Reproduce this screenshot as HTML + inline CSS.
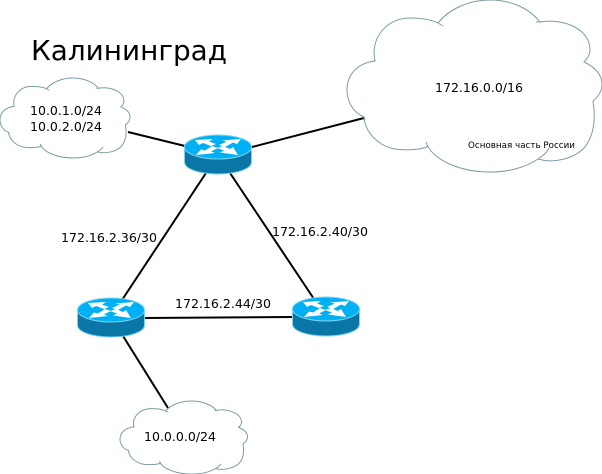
<!DOCTYPE html>
<html>
<head>
<meta charset="utf-8">
<style>
html,body{margin:0;padding:0;background:#fff;width:602px;height:474px;overflow:hidden}
svg{display:block}
text{font-family:"DejaVu Sans",sans-serif;fill:#000}
.c{fill:#fff;stroke:#7b9ea3;stroke-width:1;vector-effect:non-scaling-stroke}
.t{fill:none;stroke:#7b9ea3;stroke-width:1;vector-effect:non-scaling-stroke}
.l{stroke:#000;stroke-width:2;fill:none}
</style>
</head>
<body>
<svg width="602" height="474" viewBox="0 0 602 474" xmlns="http://www.w3.org/2000/svg">
<defs>
<g id="cloud">
<path class="c" d="M438 23C450 8 470 0 490 0C512 0 530 9 540 22C562 18 590 28 590 50C590 55 587 59 584 62C595 67 602 75 602 84C602 91 598 97 593 101C596 120 594 135 585 147C575 158 555 164 538 159C525 168 507 172 490 172C460 172 432 160 426 142C428 145 427 147 427 147C415 151 403 150 395 149C378 146 365 132 364 117C352 112 347 100 347 90C347 74 358 63 375 61C370 40 385 18 410 18C422 18 432 20 438 23Z"/>
<path class="t" d="M438 23L443 26M536 22L540 22M538 159C543 156 547 152 549 148M364 117L365 120M373 61L375 61"/>
</g>
<g id="router">
<path d="M-33.5 0V15C-33.5 22 -19 27 0 27C19 27 33.5 22 33.5 15V0Z" fill="#0a76a6" stroke="#7fd3f0" stroke-width="1"/>
<ellipse cx="0" cy="0" rx="33.5" ry="12" fill="#00b0f4" stroke="#7fd3f0" stroke-width="1"/>
<path fill="#fff" d="M-23 -7L-5 -8L-9 -5.500L-2 -3L-7 -1L-15 -4L-19 -2ZM23 -8L19 -3L15 -4.500L7 0L1 -2L9 -5.500L4 -6.500ZM-22 8L-17 2.500L-13 3.500L-6 -1L0 1L-7 4.500L-3 6ZM20 8L2 5.500L6 3.500L-1 1L5 -1L12 2L15 0Z"/>
</g>
</defs>

<line class="l" x1="128" y1="132" x2="185" y2="146"/>
<line class="l" x1="252" y1="147" x2="364" y2="118"/>
<line class="l" x1="206" y1="173" x2="122" y2="300"/>
<line class="l" x1="230" y1="173" x2="314" y2="299"/>
<line class="l" x1="144" y1="318" x2="293" y2="317"/>
<line class="l" x1="123" y1="336" x2="168" y2="408"/>

<use href="#cloud"/>
<g transform="translate(0 78) scale(.51 .465) translate(-347 0)"><use href="#cloud"/></g>
<g transform="translate(120 401) scale(.5 .425) translate(-347 0)"><use href="#cloud"/></g>

<use href="#router" transform="translate(218 147)"/>
<use href="#router" transform="translate(111 310)"/>
<use href="#router" transform="translate(326 309)"/>

<text x="31" y="60" font-size="28" textLength="196" lengthAdjust="spacingAndGlyphs">Калининград</text>
<text x="435" y="92" font-size="12.4" textLength="88" lengthAdjust="spacingAndGlyphs">172.16.0.0/16</text>
<text x="468" y="148" font-size="8.5" textLength="107" lengthAdjust="spacingAndGlyphs">Основная часть России</text>
<text x="30" y="115" font-size="12.4" textLength="72" lengthAdjust="spacingAndGlyphs">10.0.1.0/24</text>
<text x="30" y="131" font-size="12.4" textLength="72" lengthAdjust="spacingAndGlyphs">10.0.2.0/24</text>
<text x="144" y="441" font-size="12.4" textLength="72" lengthAdjust="spacingAndGlyphs">10.0.0.0/24</text>
<text x="61" y="242" font-size="12.4" textLength="96" lengthAdjust="spacingAndGlyphs">172.16.2.36/30</text>
<text x="272" y="236" font-size="12.4" textLength="96" lengthAdjust="spacingAndGlyphs">172.16.2.40/30</text>
<text x="175" y="308" font-size="12.4" textLength="96" lengthAdjust="spacingAndGlyphs">172.16.2.44/30</text>
</svg>
</body>
</html>
